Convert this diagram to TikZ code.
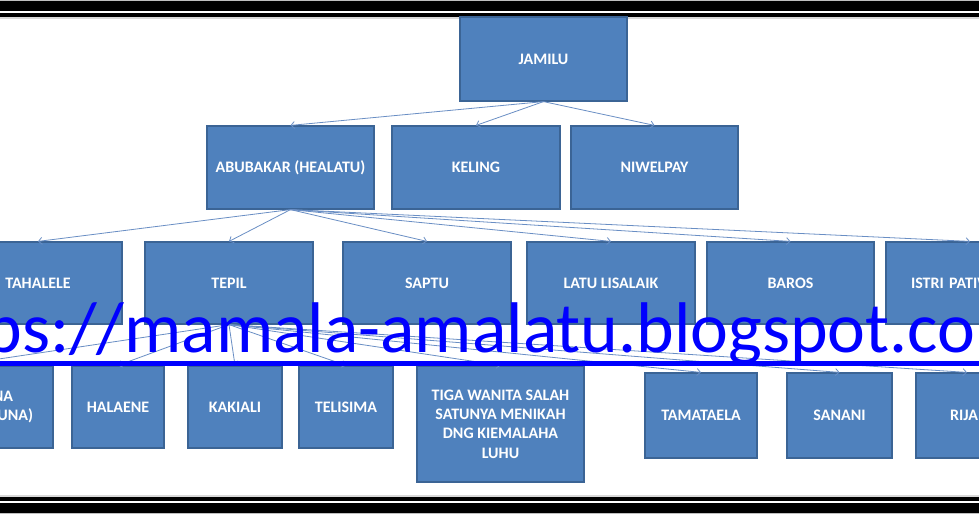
\documentclass[tikz,border=0pt]{standalone}
\usepackage{fontspec}
\setmainfont{Carlito}
\usetikzlibrary{arrows.meta}
\definecolor{boxfill}{HTML}{4F81BD}
\definecolor{boxline}{HTML}{3B6495}
\definecolor{connc}{RGB}{105,142,196}
\definecolor{urlc}{RGB}{0,0,255}
\tikzset{
  box/.style={draw=boxline, line width=1.2pt, fill=boxfill, text=white,
    font=\bfseries\fontsize{16}{19.3}\selectfont, inner sep=0pt, align=center},
  conn/.style={draw=connc, line width=0.8pt, -{Straight Barb[length=3.5pt,width=7pt]}},
  band/.style={fill=black},
  shade/.style={fill=gray!30}
}
\newcommand\bx[7][]{\node[box, #1, minimum width={(#4)-(#3)}, minimum height={(#6)-(#5)}]
  (#2) at ({((#3)+(#4))/2},{((#5)+(#6))/2}) {#7};}
\begin{document}
\begin{tikzpicture}[x=1pt,y=-1pt]
\useasboundingbox (0,0) rectangle (979,514);
\clip (0,0) rectangle (979,514);
\fill[white] (0,0) rectangle (979,514);
% frame bands
\fill[gray!50] (0,0) rectangle (979,1);
\fill[band] (0,1) rectangle (979,11);
\fill[band] (0,13) rectangle (979,17);
\fill[shade] (0,17) rectangle (979,19);
\fill[shade] (0,495) rectangle (979,497);
\fill[band] (0,497) rectangle (979,501);
\fill[band] (0,503) rectangle (979,513);
\fill[gray!50] (0,513) rectangle (979,514);
% boxes
\bx{jamilu}{460}{627}{17}{101}{JAMILU}
\bx{abubakar}{207}{374}{126}{209}{ABUBAKAR (HEALATU)}
\bx{keling}{392}{560}{126}{209}{KELING}
\bx{niwelpay}{571}{738}{126}{209}{NIWELPAY}
\bx{tahalele}{-46}{122}{242}{324}{TAHALELE}
\bx{tepil}{145}{313}{242}{324}{TEPIL}
\bx{saptu}{343}{511}{242}{324}{SAPTU}
\bx{latu}{527}{695}{242}{324}{LATU LISALAIK}
\bx{baros}{707}{874}{242}{324}{BAROS}
\bx[text width=118, align=left]{istri}{886}{1054}{242}{324}{ISTRI PATIW}
\bx[text width=154, align=right]{leftbox}{-141}{53}{366}{448}{NA\kern20pt\\UNA)}
\bx{halaene}{72}{164}{366}{448}{HALAENE}
\bx{kakiali}{188}{282}{366}{448}{KAKIALI}
\bx{telisima}{299}{393}{366}{448}{TELISIMA}
\bx{tiga}{417}{584}{366}{482}{TIGA WANITA SALAH\\SATUNYA MENIKAH\\DNG KIEMALAHA\\LUHU}
\bx{tamataela}{645}{757}{373}{458}{TAMATAELA}
\bx{sanani}{787}{892}{373}{458}{SANANI}
\bx[text width=34, align=left]{rija}{916}{1018}{373}{458}{RIJA}
% connectors
\foreach \c in {abubakar,keling,niwelpay}
  \draw[conn] (jamilu.south) -- (\c.north);
\foreach \c in {tahalele,tepil,saptu,latu,baros,istri}
  \draw[conn] (abubakar.south) -- (\c.north);
\foreach \c in {leftbox,halaene,kakiali,telisima,tiga,tamataela,sanani,rija}
  \draw[conn] (tepil.south) -- (\c.north);
% watermark url
\node[anchor=base west, inner sep=0pt, text=urlc, font=\fontsize{71.7}{86}\selectfont]
  (url) at (-97.9,352) {https://mamala-amalatu.blogspot.com};
\draw[urlc, line width=4.5pt] ([yshift=-11.5pt]url.base west) -- ([yshift=-11.5pt]url.base east);
\end{tikzpicture}
\end{document}
